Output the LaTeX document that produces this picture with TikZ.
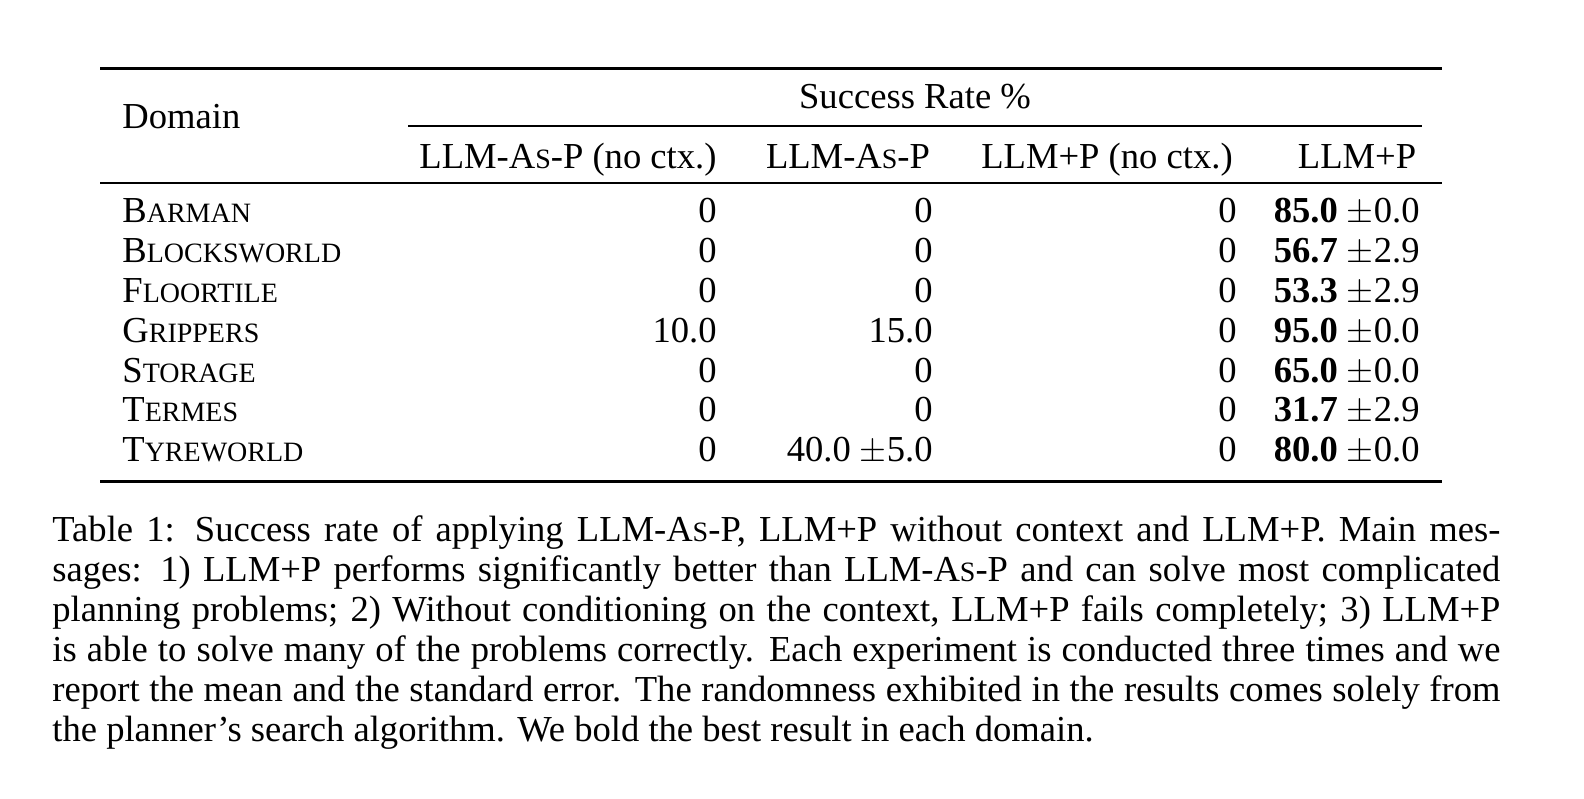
\documentclass[tikz,border=0pt]{standalone}
\usepackage{fontspec}
\setmainfont{Liberation Serif}
\newcommand\mysc[2]{#1{\fontsize{14}{14}\selectfont #2}}
\begin{document}
\begin{tikzpicture}[x=0.5pt,y=-0.5pt,
  every node/.style={font=\fontsize{18.3}{20}\selectfont,inner sep=0pt},
  L/.style={anchor=base west},R/.style={anchor=base east},C/.style={anchor=base}]
\useasboundingbox (0,0) rectangle (1584,798);
\draw[line width=1.5pt] (100,68) -- (1442,68);
\draw[line width=0.6pt] (408,126) -- (1422,126);
\draw[line width=0.8pt] (100,183) -- (1442,183);
\draw[line width=1.5pt] (100,481) -- (1442,481);
\node[L] (dom) at (122,128) {Domain};
\node[C] (sr) at (915,108) {Success Rate \%};
\node[C] (h1) at (568,168) {LLM-\mysc{A}{S}-P (no ctx.)};
\node[C] (h2) at (848,168) {LLM-\mysc{A}{S}-P};
\node[C] (h3) at (1107,168) {LLM+P (no ctx.)};
\node[C] (h4) at (1357,168) {LLM+P};
\foreach \n/\a/\b/\c/\d/\e [count=\i] in {%
 {\mysc{B}{ARMAN}}/0/0/0/85.0/0.0,
 {\mysc{B}{LOCKSWORLD}}/0/0/0/56.7/2.9,
 {\mysc{F}{LOORTILE}}/0/0/0/53.3/2.9,
 {\mysc{G}{RIPPERS}}/10.0/15.0/0/95.0/0.0,
 {\mysc{S}{TORAGE}}/0/0/0/65.0/0.0,
 {\mysc{T}{ERMES}}/0/0/0/31.7/2.9,
 {\mysc{T}{YREWORLD}}/0/{40.0 $\pm$5.0}/0/80.0/0.0}{
 \pgfmathsetmacro\yy{183+39.8*\i}
 \node[L] (d\i) at (122,\yy) {\n};
 \node[R] (a\i) at (717,\yy) {\a};
 \node[R] (b\i) at (933,\yy) {\b};
 \node[R] (c\i) at (1237,\yy) {\c};
 \node[R] (e\i) at (1420,\yy) {\textbf{\d} $\pm$\e};
}
\foreach \t [count=\i] in {%
 {Table 1: Success rate of applying LLM-\mysc{A}{S}-P, LLM+P without context and LLM+P. Main mes-},
 {sages: 1) LLM+P performs significantly better than LLM-\mysc{A}{S}-P and can solve most complicated},
 {planning problems; 2) Without conditioning on the context, LLM+P fails completely; 3) LLM+P},
 {is able to solve many of the problems correctly. Each experiment is conducted three times and we},
 {report the mean and the standard error. The randomness exhibited in the results comes solely from}}{
 \node[L] (cap\i) at (52,501+40*\i) {\makebox[724pt][s]{\t}};
}
\node[L] (cap6) at (52,741) {the planner's search algorithm. We bold the best result in each domain.};
\end{tikzpicture}
\end{document}
